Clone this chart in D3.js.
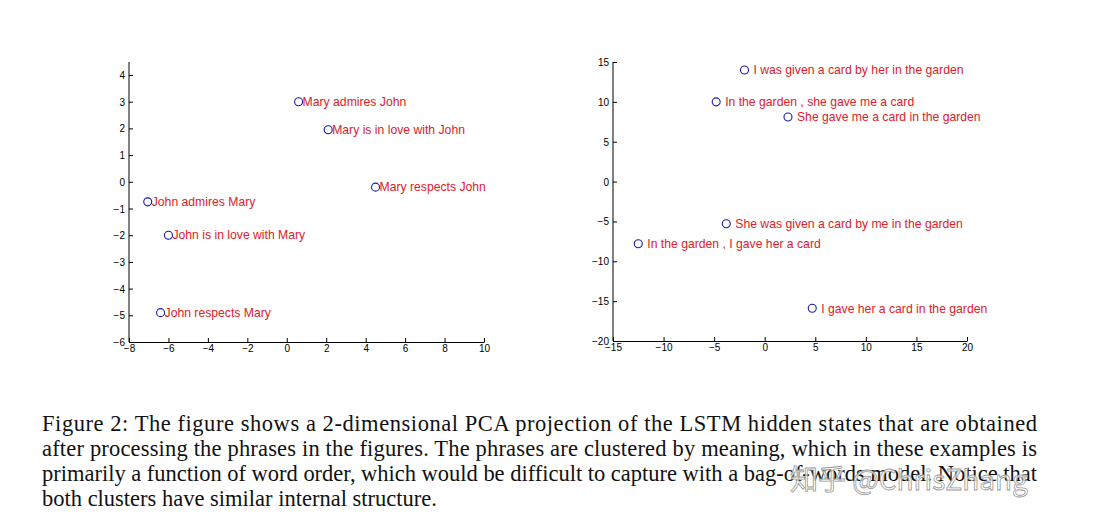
<!DOCTYPE html>
<html><head><meta charset="utf-8">
<script src="https://cdn.jsdelivr.net/npm/d3@7"></script>
<style>body{margin:0;background:#fff}svg{display:block}</style>
</head><body>
<svg id="c" width="1095" height="527"></svg>
<script>
const leftLabels=["Mary admires John","Mary is in love with John","Mary respects John","John admires Mary","John is in love with Mary","John respects Mary"];
const leftX=[0.6,2.1,4.5,-7.05,-6.0,-6.4];
const leftY=[3.0,1.95,-0.2,-0.75,-2.0,-4.9];
const leftXTicks=[-8,-6,-4,-2,0,2,4,6,8,10];
const leftYTicks=[-6,-5,-4,-3,-2,-1,0,1,2,3,4];
const rightLabels=["I was given a card by her in the garden","In the garden , she gave me a card","She gave me a card in the garden","She was given a card by me in the garden","In the garden , I gave her a card","I gave her a card in the garden"];
const rightX=[-2.0,-4.8,2.3,-3.8,-12.5,4.7];
const rightY=[14.0,10.0,8.1,-5.3,-7.8,-15.9];
const rightXTicks=[-15,-10,-5,0,5,10,15,20];
const rightYTicks=[-20,-15,-10,-5,0,5,10,15];
const captionLines=["Figure 2:  The figure shows a 2-dimensional PCA projection of the LSTM hidden states that are obtained","after processing the phrases in the figures.  The phrases are clustered by meaning, which in these examples is","primarily a function of word order, which would be difficult to capture with a bag-of-words model.  Notice that","both clusters have similar internal structure."];

const svg=d3.select("#c");
function panel(o){
  const x=d3.scaleLinear().domain(o.xd).range([o.x0,o.x1]);
  const y=d3.scaleLinear().domain(o.yd).range([o.y1,o.y0]);
  const g=svg.append("g");
  const ax=g.append("g").attr("transform",`translate(0,${o.y1})`)
    .call(d3.axisBottom(x).tickValues(o.xt).tickSize(-4).tickPadding(3).tickSizeOuter(0));
  const ay=g.append("g").attr("transform",`translate(${o.x0},0)`)
    .call(d3.axisLeft(y).tickValues(o.yt).tickSize(-4).tickPadding(4).tickSizeOuter(0));
  ay.select(".domain").attr("d",`M0,${o.ytop}V${o.y1}`);
  [ax,ay].forEach(a=>{a.selectAll("text").attr("font-family","Liberation Sans, Arial").attr("font-size",10).attr("fill","#000");
    a.selectAll("line,path").attr("stroke","#000");});
  ay.selectAll("text").attr("dy","0.35em");
  const pts=o.xs.map((v,i)=>({x:v,y:o.ys[i],l:o.labels[i]}));
  g.selectAll("circle").data(pts).join("circle").attr("cx",d=>x(d.x)).attr("cy",d=>y(d.y)).attr("r",4)
    .attr("fill","none").attr("stroke","#1a1aa6").attr("stroke-width",1.1);
  g.selectAll("text.lab").data(pts).join("text").attr("class","lab").attr("x",d=>x(d.x)+o.dx).attr("y",d=>y(d.y)).attr("dy","0.35em")
    .attr("font-family","Liberation Sans, Arial").attr("font-size",12.2).attr("fill","#e0202a").text(d=>d.l);
}
panel({xd:[-8,10],yd:[-6,4],x0:129,x1:484,y0:75,y1:342,ytop:62,xt:leftXTicks,yt:leftYTicks,xs:leftX,ys:leftY,labels:leftLabels,dx:4});
panel({xd:[-15,20],yd:[-20,15],x0:613,x1:967,y0:62,y1:341,ytop:62,xt:rightXTicks,yt:rightYTicks,xs:rightX,ys:rightY,labels:rightLabels,dx:9});

captionLines.forEach((t,i)=>{
  const tx=svg.append("text").attr("x",42).attr("y",431+i*25).attr("font-family","Liberation Serif, Times New Roman").attr("font-size",22.5).attr("fill","#111").text(t);
  if(i<3) tx.attr("textLength",995).attr("lengthAdjust","spacing");
});
svg.append("text").attr("x",790).attr("y",490).attr("font-family","Noto Sans CJK SC, sans-serif").attr("font-size",28)
  .attr("fill","#fff").attr("fill-opacity",0.75).attr("stroke","#999").attr("stroke-width",0.8).text("知乎 @ChrisZhang");
</script>
</body></html>
